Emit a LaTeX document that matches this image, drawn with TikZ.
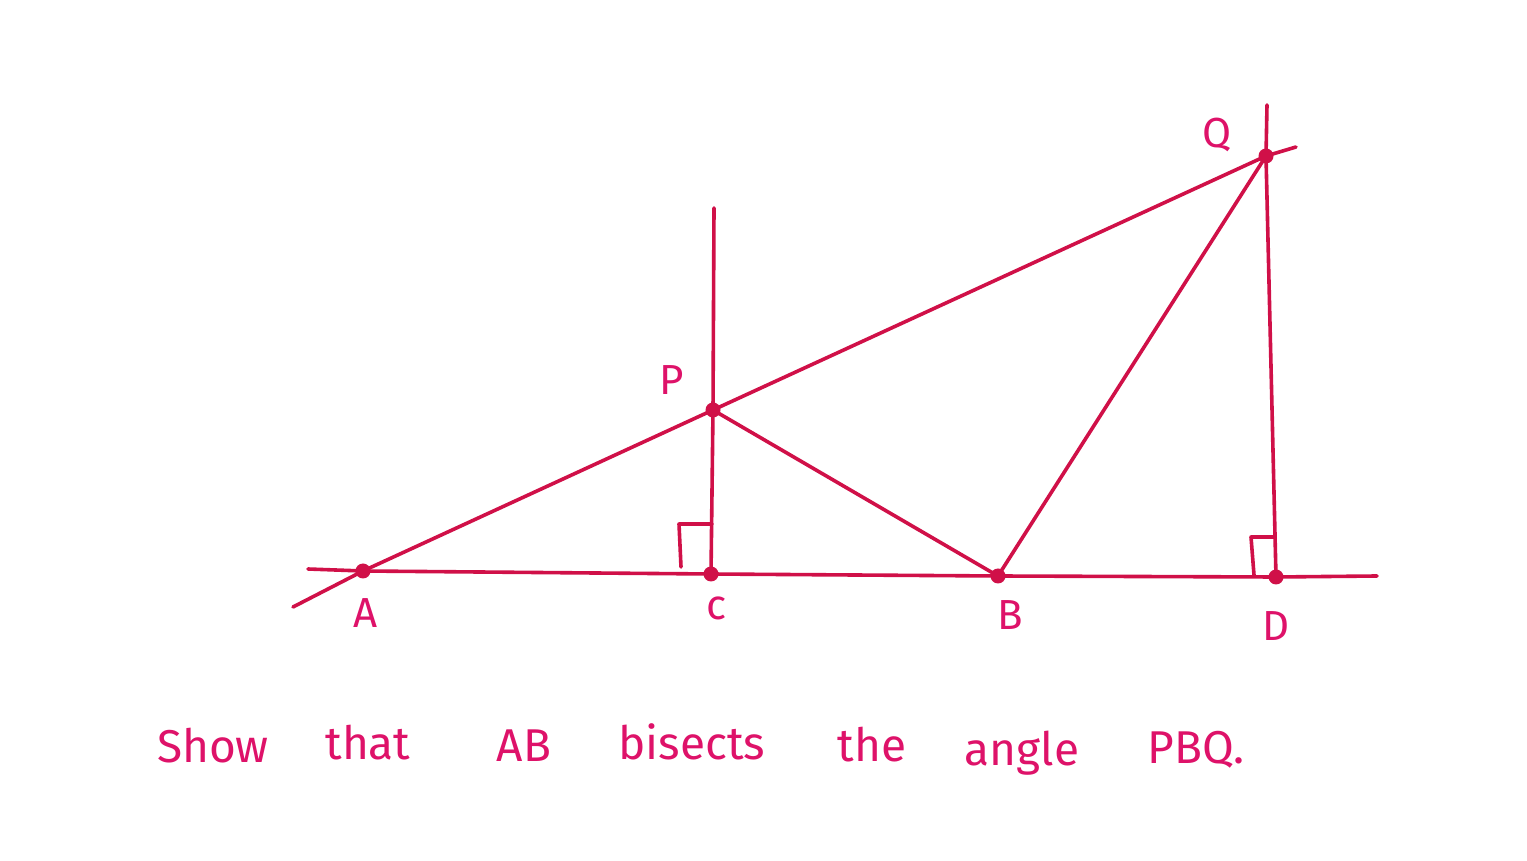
\documentclass[tikz,border=0pt]{standalone}
\usepackage{fontspec}
\setmainfont{Fira Sans}
\definecolor{linecol}{RGB}{208,16,72}
\definecolor{textcol}{RGB}{222,18,105}
\begin{document}
\begin{tikzpicture}[x=1pt,y=1pt,
  geo/.style={draw=linecol,line width=3.6pt,line cap=round,line join=round},
  dotmark/.style={circle,fill=linecol,inner sep=0pt,minimum size=15pt},
  lbl/.style={text=textcol,font=\fontsize{42}{44}\selectfont},
  word/.style={text=textcol,font=\fontsize{46}{52}\selectfont,anchor=base}]
\useasboundingbox (0,0) rectangle (1527,860);
\fill[white] (0,0) rectangle (1527,860);
% points (y = 860 - pixel y)
\coordinate (A) at (363,289);
\coordinate (C) at (711,286);
\coordinate (B) at (998,284);
\coordinate (D) at (1276,283);
\coordinate (P) at (713,450);
\coordinate (Q) at (1266,704);
\coordinate (L0) at (308,291);
\coordinate (R0) at (1377,284);
\coordinate (E1) at (293,253);
\coordinate (E2) at (1296,713);
\coordinate (CT) at (714,652);
\coordinate (DT) at (1267,755);
% lines
\draw[geo] (L0) -- (A) -- (C) -- (B) -- (D) -- (R0);
\draw[geo] (E1) -- (A) -- (P) -- (Q) -- (E2);
\draw[geo] (CT) -- (P) -- (C);
\draw[geo] (DT) -- (Q) -- (D);
\draw[geo] (P) -- (B) -- (Q);
% right angle marks
\coordinate (rc1) at (681,293);
\coordinate (rc2) at (679,336);
\coordinate (rc3) at (712,336);
\draw[geo] (rc1) -- (rc2) -- (rc3);
\coordinate (rd1) at (1254,285);
\coordinate (rd2) at (1251,323);
\coordinate (rd3) at (1274,323);
\draw[geo] (rd1) -- (rd2) -- (rd3);
% dots
\foreach \p in {A,C,B,D,P,Q} \node[dotmark] at (\p) {};
% labels
\node[lbl] (lP) at (672,480) {P};
\node[lbl] (lQ) at (1217,725) {Q};
\node[lbl] (lA) at (366,247) {A};
\node[lbl] (lC) at (717,252) {c};
\node[lbl] (lB) at (1010,245) {B};
\node[lbl] (lD) at (1276,234) {D};
% statement
\node[word] (w1) at (213,97) {Show};
\node[word] (w2) at (368,100) {that};
\node[word] (w3) at (524,98) {AB};
\node[word] (w4) at (692,100) {bisects};
\node[word] (w5) at (872,98) {the};
\node[word] (w6) at (1022,94) {angle};
\node[word] (w7) at (1196,96) {PBQ.};
\end{tikzpicture}
\end{document}
